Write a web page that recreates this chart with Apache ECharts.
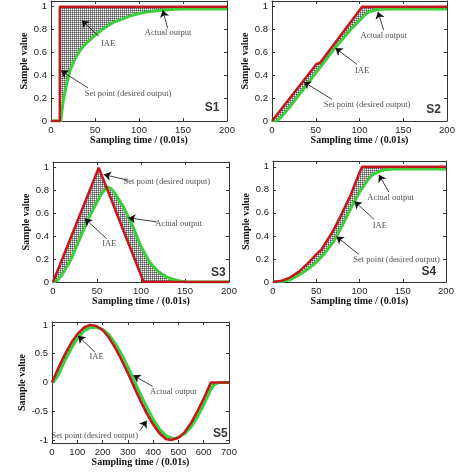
<!DOCTYPE html>
<html><head><meta charset="utf-8">
<script src="https://cdn.jsdelivr.net/npm/echarts@6/dist/echarts.min.js"></script>
<style>html,body{margin:0;padding:0;background:#fff}#c{width:474px;height:474px}</style>
</head><body><div id="c"></div>
<script>
// ---------- data ----------
const s1SetT=[0,10,10,200];
const s1SetV=[0,0,1,1];
const s1ActT=[0,11,14,18,22,27,33,40,50,60,70,80,90,100,110,120,130,140,150,200];
const s1ActV=[0,0,0.18,0.33,0.45,0.54,0.62,0.68,0.75,0.81,0.86,0.89,0.92,0.94,0.955,0.965,0.972,0.977,0.98,0.98];

const s2SetT=[0,48,51,55,103,200];
const s2SetV=[0,0.47,0.5,0.51,1,1];
const s2ActT=[0,5,10,20,30,40,50,60,70,80,90,100,105,110,115,120,130,200];
const s2ActV=[0,0,0.03,0.12,0.22,0.32,0.42,0.52,0.62,0.71,0.8,0.88,0.92,0.95,0.965,0.975,0.98,0.98];

const s3SetT=[0,52,103,200];
const s3SetV=[0,1,0,0];
const s3ActT=[0,5,10,20,30,40,50,55,60,63,67,70,80,90,100,110,120,130,140,150,200];
const s3ActV=[0,0.015,0.06,0.19,0.37,0.55,0.7,0.77,0.82,0.83,0.81,0.78,0.66,0.5,0.31,0.17,0.09,0.04,0.015,0,0];

const s4SetT=[0,10,20,30,40,50,53,56,60,70,80,90,100,103,200];
const s4SetV=[0,0.01,0.04,0.09,0.16,0.24,0.26,0.28,0.33,0.45,0.6,0.76,0.95,1,1];
const s4ActT=[0,10,20,30,40,50,60,70,80,90,100,110,115,120,125,130,140,200];
const s4ActV=[0,0.005,0.02,0.06,0.11,0.17,0.25,0.35,0.49,0.64,0.78,0.89,0.93,0.95,0.965,0.975,0.98,0.98];

const s5SetT=[0,25,50,75,100,125,150,157,175,200,225,250,275,300,325,350,375,400,425,450,471,500,525,550,575,600,628,700];
const s5SetV=[0,0.25,0.48,0.68,0.84,0.95,1,1,0.98,0.91,0.78,0.6,0.39,0.16,-0.08,-0.32,-0.54,-0.73,-0.88,-0.98,-1,-0.96,-0.86,-0.7,-0.5,-0.28,0,0];
const s5ActT=[0,10,25,50,75,100,125,150,170,190,200,225,250,275,300,325,350,375,400,425,450,475,490,500,525,550,575,600,625,640,660,700];
const s5ActV=[0,0.03,0.13,0.37,0.58,0.76,0.89,0.95,0.96,0.94,0.92,0.83,0.68,0.49,0.27,0.03,-0.2,-0.43,-0.64,-0.81,-0.92,-0.97,-0.97,-0.95,-0.89,-0.77,-0.6,-0.39,-0.15,-0.04,0,0];

const yTicks01=[0,0.2,0.4,0.6,0.8,1];
const yTicks5=[-1,-0.5,0,0.5,1];
const tags=['S1','S2','S3','S4','S5'];
const txtSet='Set point (desired output)', txtAct='Actual output', txtIAE='IAE';

// ---------- layout / annotations ----------
const zip=(a,b)=>a.map((v,i)=>[v,b[i]]);
const panels=[
 {set:zip(s1SetT,s1SetV),act:zip(s1ActT,s1ActV),xmax:200,xint:50,ymin:0,ymax:1.05,yt:yTicks01,
  grid:{left:51,top:1,width:176,height:120},tagAt:[183,0.12],yGap:21,
  notes:[{t:txtIAE,at:[64.8,0.68],from:[54.5,0.74],to:[35,0.88]},
         {t:txtAct,at:[133,0.77],from:[132.6,0.81],to:[127,0.97]},
         {t:txtSet,at:[87.5,0.24],from:[42,0.29],to:[11.4,0.44]}]},
 {set:zip(s2SetT,s2SetV),act:zip(s2ActT,s2ActV),xmax:200,xint:50,ymin:0,ymax:1.05,yt:yTicks01,
  grid:{left:272,top:1,width:175,height:120},tagAt:[184.8,0.096],yGap:22,
  notes:[{t:txtAct,at:[127.6,0.75],from:[127.6,0.797],to:[121,0.957]},
         {t:txtIAE,at:[102.9,0.443],from:[97,0.496],to:[72.4,0.638]},
         {t:txtSet,at:[108.6,0.145],from:[68.6,0.19],to:[36.2,0.342]}]},
 {set:zip(s3SetT,s3SetV),act:zip(s3ActT,s3ActV),xmax:200,xint:50,ymin:0,ymax:1.05,yt:yTicks01,
  grid:{left:53,top:162,width:176,height:120},tagAt:[188,0.084],yGap:18,
  notes:[{t:txtSet,at:[129.3,0.875],from:[85.6,0.89],to:[57.8,0.94]},
         {t:txtAct,at:[142.6,0.51],from:[117.9,0.526],to:[85.6,0.561]},
         {t:txtIAE,at:[63.9,0.337],from:[60.8,0.38],to:[36.1,0.555]}]},
 {set:zip(s4SetT,s4SetV),act:zip(s4ActT,s4ActV),xmax:200,xint:50,ymin:0,ymax:1.05,yt:yTicks01,
  grid:{left:273,top:161,width:173,height:121},tagAt:[180.3,0.09],yGap:19,
  notes:[{t:txtAct,at:[135.9,0.733],from:[134,0.78],to:[122.4,0.93]},
         {t:txtIAE,at:[123.5,0.49],from:[116.6,0.545],to:[94.2,0.70]},
         {t:txtSet,at:[142.9,0.19],from:[99.2,0.24],to:[73.4,0.394]}]},
 {set:zip(s5SetT,s5SetV),act:zip(s5ActT,s5ActV),xmax:700,xint:100,ymin:-1.05,ymax:1.05,yt:yTicks5,
  grid:{left:52,top:322,width:177,height:121},tagAt:[665.6,-0.895],yGap:22,
  notes:[{t:txtIAE,at:[176,0.445],from:[169,0.53],to:[103,0.81]},
         {t:txtAct,at:[480,-0.155],from:[398,-0.067],to:[321.6,0.125]},
         {t:txtSet,at:[169,-0.924],from:[348,-0.836],to:[374.5,-0.66]}]}
];

function hatchCanvas(){
  const c=document.createElement('canvas');c.width=2;c.height=2;
  const g=c.getContext('2d');
  g.fillStyle='#ffffff';g.fillRect(0,0,2,2);
  g.fillStyle='#9a9a9a';g.fillRect(1,0,1,1);g.fillRect(0,1,1,1);
  g.fillStyle='#555555';g.fillRect(0,0,1,1);
  return c;
}
const hatch=hatchCanvas();

const SANS='Liberation Sans', SERIF='Liberation Serif';
const grid=[],xAxis=[],yAxis=[],series=[];
panels.forEach((p,i)=>{
  grid.push(Object.assign({containLabel:false,show:false},p.grid));
  const axLine={show:true,onZero:false,lineStyle:{color:'#333',width:1}};
  xAxis.push({type:'value',gridIndex:i,min:0,max:p.xmax,interval:p.xint,position:'bottom',
    axisLine:axLine,axisTick:{inside:true,length:3,lineStyle:{color:'#333'}},
    splitLine:{show:false},
    axisLabel:{margin:4,fontFamily:SANS,fontSize:9.5,color:'#222'},
    name:'Sampling time / (0.01s)',nameLocation:'middle',nameGap:14,
    nameTextStyle:{fontFamily:SERIF,fontWeight:'bold',fontSize:10,color:'#111'}});
  xAxis.push({type:'value',gridIndex:i,min:0,max:p.xmax,interval:p.xint,position:'top',
    axisLine:axLine,axisTick:{inside:true,length:3,lineStyle:{color:'#333'}},
    splitLine:{show:false},axisLabel:{show:false}});
  yAxis.push({type:'value',gridIndex:i,min:p.ymin,max:p.ymax,position:'left',
    axisLine:axLine,axisTick:{inside:true,length:3,customValues:p.yt,lineStyle:{color:'#333'}},
    splitLine:{show:false},
    axisLabel:{customValues:p.yt,margin:4,fontFamily:SANS,fontSize:9.5,color:'#222'},
    name:'Sample value',nameLocation:'middle',nameGap:p.yGap,
    nameTextStyle:{fontFamily:SERIF,fontWeight:'bold',fontSize:10,color:'#111'}});
  yAxis.push({type:'value',gridIndex:i,min:p.ymin,max:p.ymax,position:'right',
    axisLine:axLine,axisTick:{inside:true,length:3,customValues:p.yt,lineStyle:{color:'#333'}},
    splitLine:{show:false},axisLabel:{show:false}});
  const xi=2*i, yi=2*i;
  series.push({type:'custom',xAxisIndex:xi,yAxisIndex:yi,data:[[0,0]],clip:true,silent:true,z:1,
    renderItem:(params,api)=>{
      const pts=p.set.map(v=>api.coord(v)).concat(p.act.slice().reverse().map(v=>api.coord(v)));
      return {type:'polygon',shape:{points:pts},style:{fill:{image:hatch,repeat:'repeat'},stroke:null}};
    }});
  series.push({type:'line',xAxisIndex:xi,yAxisIndex:yi,data:p.act,showSymbol:false,z:2,
    lineStyle:{color:'#3ccf3c',width:3},silent:true});
  series.push({type:'line',xAxisIndex:xi,yAxisIndex:yi,data:p.set,showSymbol:false,z:3,
    lineStyle:{color:'#c4161c',width:2.5},silent:true});
  const labelData=p.notes.map(n=>({value:n.at,name:n.t}));
  labelData.push({value:p.tagAt,name:tags[i],label:{fontFamily:SANS,fontWeight:'bold',fontSize:12,color:'#000'}});
  series.push({type:'scatter',xAxisIndex:xi,yAxisIndex:yi,data:labelData,symbolSize:1,z:5,silent:true,
    itemStyle:{color:'rgba(0,0,0,0)'},
    label:{show:true,position:'inside',formatter:'{b}',fontFamily:SERIF,fontSize:8.5,color:'#222'},
    markLine:{silent:true,symbol:['none','arrow'],symbolSize:7,animation:false,
      lineStyle:{color:'#111',width:0.8,type:'solid'},label:{show:false},
      data:p.notes.map(n=>[{coord:n.from},{coord:n.to}])}});
});

const chart=echarts.init(document.getElementById('c'),null,{renderer:'canvas'});
chart.setOption({animation:false,backgroundColor:'#fff',grid,xAxis,yAxis,series});
</script></body></html>
